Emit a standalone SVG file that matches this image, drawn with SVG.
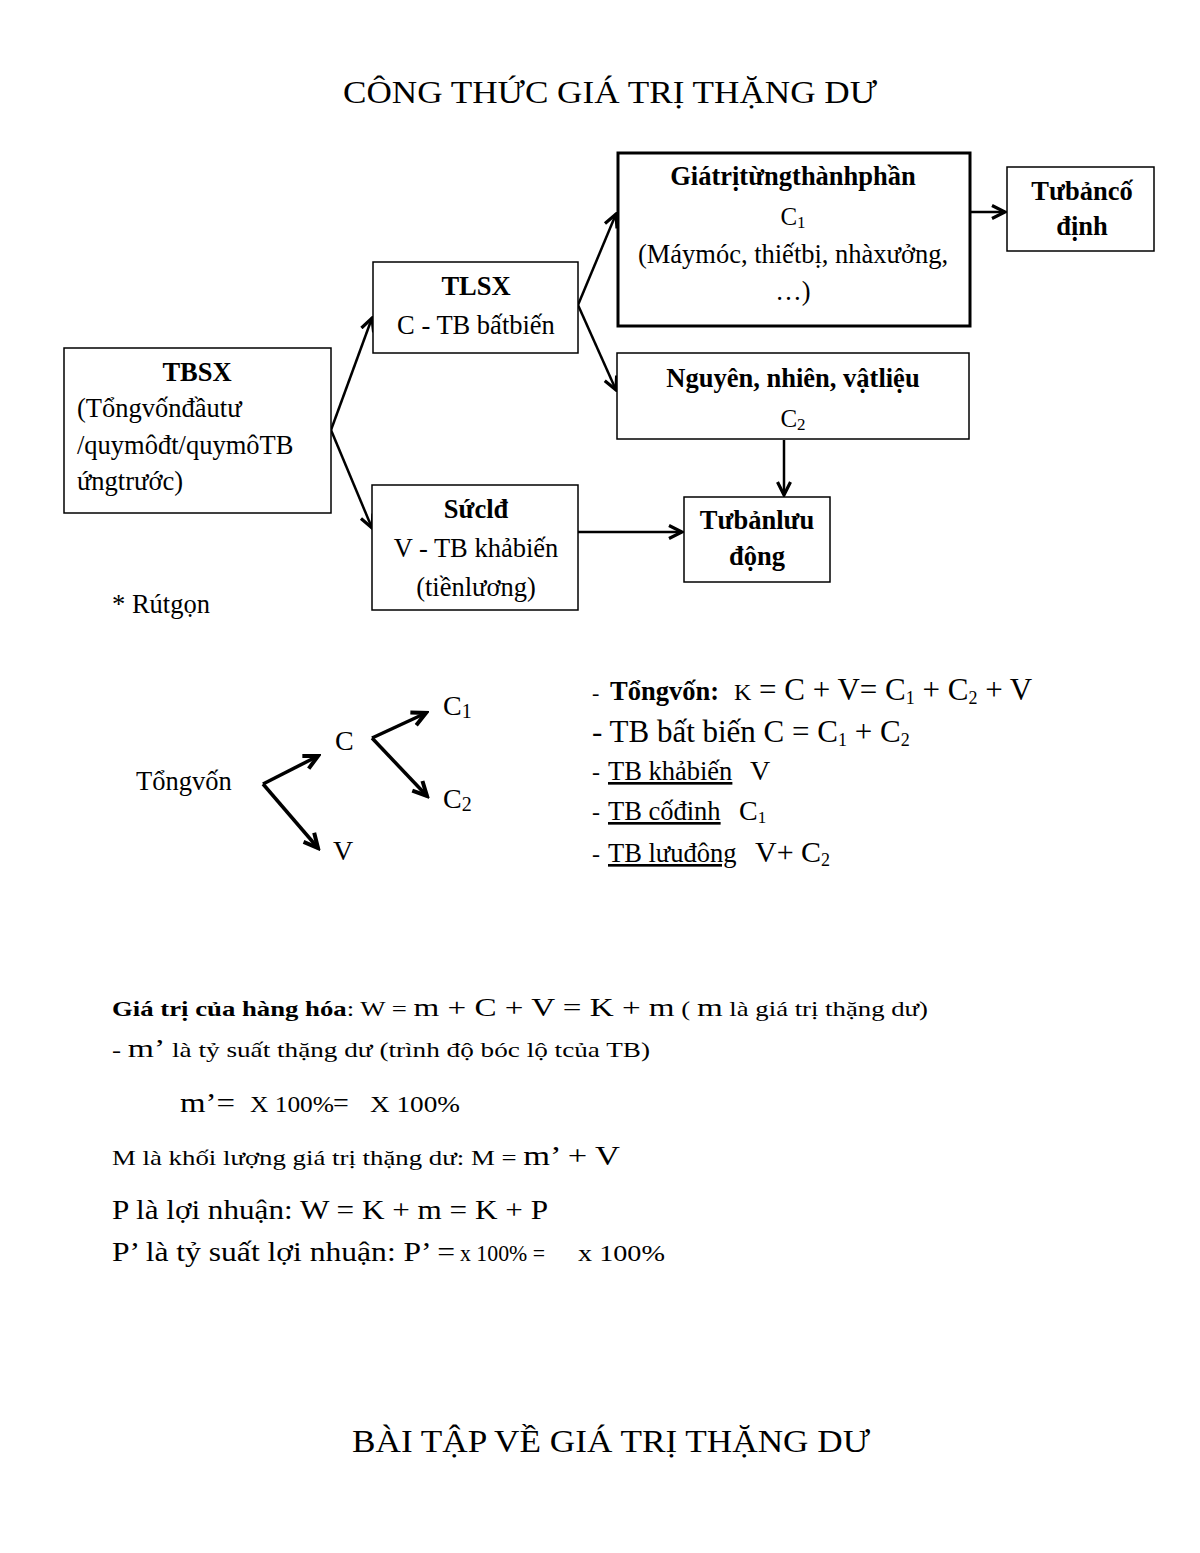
<svg xmlns="http://www.w3.org/2000/svg" width="1200" height="1553" viewBox="0 0 1200 1553">
<defs>
<style>
text{font-family:"Liberation Serif","Times New Roman",serif;fill:#000}
.t{font-size:31px}
.b{font-weight:bold}
.n{font-size:26.5px}
.m{text-anchor:middle}
.box{fill:#fff;stroke:#000;stroke-width:1.5}
.boxT{fill:#fff;stroke:#000;stroke-width:3}
.c{fill:none;stroke:#000;stroke-width:2.5}
.c2{fill:none;stroke:#000;stroke-width:3.5}
.u{text-decoration:underline}
</style>
<marker id="ah" markerUnits="userSpaceOnUse" viewBox="0 0 16 16" refX="14" refY="8" markerWidth="16" markerHeight="16" orient="auto">
<path d="M1,1.5 L14,8 L1,14.5" fill="none" stroke="#000" stroke-width="3.2"/>
</marker>
<marker id="ah2" markerUnits="userSpaceOnUse" viewBox="0 0 18 18" refX="15" refY="9" markerWidth="18" markerHeight="18" orient="auto">
<path d="M1,2 L15,9 L1,16" fill="none" stroke="#000" stroke-width="4"/>
</marker>
</defs>
<rect width="1200" height="1553" fill="#fff"/>

<text class="t m" x="610" y="103" textLength="534" lengthAdjust="spacingAndGlyphs">CÔNG THỨC GIÁ TRỊ THẶNG DƯ</text>

<g id="connectors">
<path class="c" d="M331,430 L372,318" marker-end="url(#ah)"/>
<path class="c" d="M331,430 L372,528" marker-end="url(#ah)"/>
<path class="c" d="M578,305 L616,214" marker-end="url(#ah)"/>
<path class="c" d="M578,305 L616,390" marker-end="url(#ah)"/>
<path class="c" d="M971,212 L1005,212" marker-end="url(#ah)"/>
<path class="c" d="M784,440 L784,495" marker-end="url(#ah)"/>
<path class="c" d="M578,532 L682,532" marker-end="url(#ah)"/>
<path class="c2" d="M263,784 L318,756" marker-end="url(#ah2)"/>
<path class="c2" d="M263,784 L318,848" marker-end="url(#ah2)"/>
<path class="c2" d="M372,738 L426,713" marker-end="url(#ah2)"/>
<path class="c2" d="M372,738 L427,796" marker-end="url(#ah2)"/>
</g>

<g id="tbsx">
<rect class="box" x="64" y="348" width="267" height="165"/>
<text class="n b m" x="197" y="381">TBSX</text>
<text class="n" x="77" y="417">(Tổngvốnđầutư</text>
<text class="n" x="77" y="454">/quymôđt/quymôTB</text>
<text class="n" x="77" y="490">ứngtrước)</text>
</g>

<g id="tlsx">
<rect class="box" x="373" y="262" width="205" height="91"/>
<text class="n b m" x="476" y="295">TLSX</text>
<text class="n m" x="476" y="334">C - TB bấtbiến</text>
</g>

<g id="suclđ">
<rect class="box" x="372" y="485" width="206" height="125"/>
<text class="n b m" x="476" y="518">Sứclđ</text>
<text class="n m" x="476" y="557">V - TB khảbiến</text>
<text class="n m" x="476" y="596">(tiềnlương)</text>
</g>

<g id="giatri">
<rect class="boxT" x="618" y="153" width="352" height="173"/>
<text class="n b m" x="793" y="185">Giátrịtừngthànhphần</text>
<text class="m" x="793" y="225" font-size="25">C<tspan font-size="17" dy="3">1</tspan></text>
<text class="n m" x="793" y="263">(Máymóc, thiếtbị, nhàxưởng,</text>
<text class="n m" x="793" y="300">…)</text>
</g>

<g id="tbcodinh">
<rect class="box" x="1007" y="167" width="147" height="84"/>
<text class="n b m" x="1082" y="200">Tưbảncố</text>
<text class="n b m" x="1082" y="235">định</text>
</g>

<g id="nguyen">
<rect class="box" x="617" y="353" width="352" height="86"/>
<text class="n b m" x="793" y="387">Nguyên, nhiên, vậtliệu</text>
<text class="m" x="793" y="427" font-size="25">C<tspan font-size="17" dy="3">2</tspan></text>
</g>

<g id="tbluudong">
<rect class="box" x="684" y="497" width="146" height="85"/>
<text class="n b m" x="757" y="529">Tưbảnlưu</text>
<text class="n b m" x="757" y="565">động</text>
</g>

<text class="n" x="112" y="613">* Rútgọn</text>

<g id="tree">
<text class="n" x="136" y="790">Tổngvốn</text>
<text x="335" y="750" font-size="28">C</text>
<text x="443" y="715" font-size="28">C<tspan font-size="20" dy="3">1</tspan></text>
<text x="443" y="808" font-size="28">C<tspan font-size="20" dy="3">2</tspan></text>
<text x="333" y="860" font-size="28">V</text>
</g>

<g id="list">
<text x="592" y="700" font-size="22">-<tspan class="b" x="610" font-size="26.5">Tổngvốn:</tspan><tspan x="734" font-size="24">K</tspan><tspan font-size="31"> = C + V= C</tspan><tspan font-size="18" dy="4">1</tspan><tspan font-size="31" dy="-4"> + C</tspan><tspan font-size="18" dy="4">2</tspan><tspan font-size="31" dy="-4"> + V</tspan></text>
<text x="592" y="742" font-size="31">- TB bất biến C = C<tspan font-size="18" dy="4">1</tspan><tspan dy="-4"> + C</tspan><tspan font-size="18" dy="4">2</tspan></text>
<text x="592" y="780" font-size="24">-<tspan class="u" x="608" font-size="26.5">TB khảbiến</tspan><tspan x="750" font-size="28">V</tspan></text>
<text x="592" y="820" font-size="24">-<tspan class="u" x="608" font-size="26.5">TB cốđinh</tspan><tspan x="739" font-size="28">C</tspan><tspan font-size="17" dy="3">1</tspan></text>
<text x="592" y="862" font-size="24">-<tspan class="u" x="608" font-size="26.5">TB lưuđông</tspan><tspan x="755" font-size="30">V+ C</tspan><tspan font-size="18" dy="4">2</tspan></text>
</g>

<g id="formulas">
<text x="112" y="1016" font-size="21" textLength="816" lengthAdjust="spacingAndGlyphs"><tspan class="b">Giá trị của hàng hóa</tspan>: W = <tspan font-size="26">m + C + V = K + m</tspan> ( <tspan font-size="26">m</tspan> là giá trị thặng dư)</text>
<text x="112" y="1057" font-size="21" textLength="538" lengthAdjust="spacingAndGlyphs">- <tspan font-size="26">m’</tspan> là tỷ suất thặng dư (trình độ bóc lộ tcủa TB)</text>
<text x="180" y="1112" font-size="28" textLength="55" lengthAdjust="spacingAndGlyphs">m’=</text>
<text x="250" y="1112" font-size="24" textLength="84" lengthAdjust="spacingAndGlyphs">X 100%</text>
<text x="333" y="1112" font-size="28">=</text>
<text x="370" y="1112" font-size="24" textLength="90" lengthAdjust="spacingAndGlyphs">X 100%</text>
<text x="112" y="1165" font-size="21" textLength="508" lengthAdjust="spacingAndGlyphs">M là khối lượng giá trị thặng dư: M = <tspan font-size="27">m’ + V</tspan></text>
<text x="112" y="1219" font-size="27" textLength="436" lengthAdjust="spacingAndGlyphs">P là lợi nhuận: W = K + m = K + P</text>
<text x="112" y="1261" font-size="28" textLength="343" lengthAdjust="spacingAndGlyphs">P’ là tỷ suất lợi nhuận: P’ =</text>
<text x="460" y="1261" font-size="23" textLength="85" lengthAdjust="spacingAndGlyphs">x 100% =</text>
<text x="578" y="1261" font-size="23" textLength="87" lengthAdjust="spacingAndGlyphs">x 100%</text>
</g>

<text class="t m" x="611" y="1452" textLength="518" lengthAdjust="spacingAndGlyphs">BÀI TẬP VỀ GIÁ TRỊ THẶNG DƯ</text>
</svg>
